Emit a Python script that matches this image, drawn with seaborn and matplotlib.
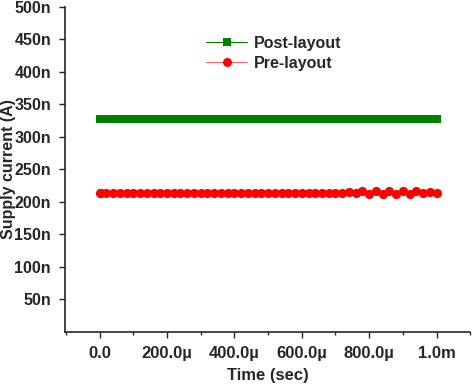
"""
Supply current vs time: post-layout vs pre-layout
"""
import matplotlib
matplotlib.use('Agg')
import matplotlib.pyplot as plt
import seaborn as sns
import numpy as np
import pandas as pd
from matplotlib.ticker import MultipleLocator
from matplotlib.lines import Line2D

# time points (s)
time_s = [0.0, 5e-6] + [i * 20e-6 for i in range(1, 51)]

# supply current (A)
post_layout = [327e-9] * 52
pre_layout = [214e-9] * 38 + [
    215e-9, 213.5e-9, 216e-9, 212e-9, 217e-9, 211.5e-9, 217.5e-9,
    211.5e-9, 217e-9, 212e-9, 216e-9, 213e-9, 215e-9, 214e-9,
]

x_ticks = [0.0, 200e-6, 400e-6, 600e-6, 800e-6, 1e-3]
x_tick_labels = ['0.0', '200.0µ', '400.0µ', '600.0µ', '800.0µ', '1.0m']
y_ticks = [50e-9 * k for k in range(1, 11)]
y_tick_labels = [f'{int(round(v * 1e9))}n' for v in y_ticks]

df = pd.DataFrame({'time': time_s, 'post': post_layout, 'pre': pre_layout})

sns.set_style('ticks')
plt.rcParams['font.family'] = ['Liberation Sans', 'DejaVu Sans']
plt.rcParams['font.weight'] = 'bold'

fig = plt.figure(figsize=(4.74, 3.85), dpi=100)
ax = fig.add_axes([0.137, 0.138, 0.855, 0.844])

sns.lineplot(data=df, x='time', y='post', ax=ax, color='#008000', marker='s',
             markersize=5.2, markeredgewidth=0, linewidth=1, zorder=3)
sns.lineplot(data=df, x='time', y='pre', ax=ax, color='#ff0000', marker='o',
             markersize=6.6, markeredgewidth=0, linewidth=1, zorder=3)

ax.set_xlim(-103e-6, 1.1e-3)
ax.set_ylim(0, 500e-9)
ax.set_xticks(x_ticks)
ax.set_xticklabels(x_tick_labels, fontsize=12, fontweight='bold')
ax.xaxis.set_minor_locator(MultipleLocator(100e-6))
ax.set_yticks(y_ticks)
ax.set_yticklabels(y_tick_labels, fontsize=11.5, fontweight='bold')
ax.tick_params(axis='both', which='major', length=4, width=1, direction='out', pad=6)
ax.tick_params(axis='x', which='minor', length=2.5, width=1, direction='out')
for s in ['left', 'bottom']:
    ax.spines[s].set_linewidth(1.2)
sns.despine(ax=ax)

ax.set_xlabel('Time (sec)', fontsize=12, fontweight='bold', labelpad=5)
ax.set_ylabel('Supply current (A)', fontsize=11.5, fontweight='bold')
ax.yaxis.set_label_coords(-0.121, 0.5)

handles = [
    Line2D([], [], color='#008000', marker='s', markersize=5.5, linewidth=0.8, markeredgewidth=0),
    Line2D([], [], color='#ff6666', marker='o', markersize=6.5, linewidth=0.8,
           markerfacecolor='#ff0000', markeredgewidth=0),
]
ax.legend(handles, ['Post-layout', 'Pre-layout'], frameon=False, loc='center',
          bbox_to_anchor=(0.515, 0.857), prop={'weight': 'bold', 'size': 11.5},
          handlelength=2.6, handletextpad=0.4, labelspacing=0.3)

plt.savefig('out.png', dpi=100)
plt.close()
